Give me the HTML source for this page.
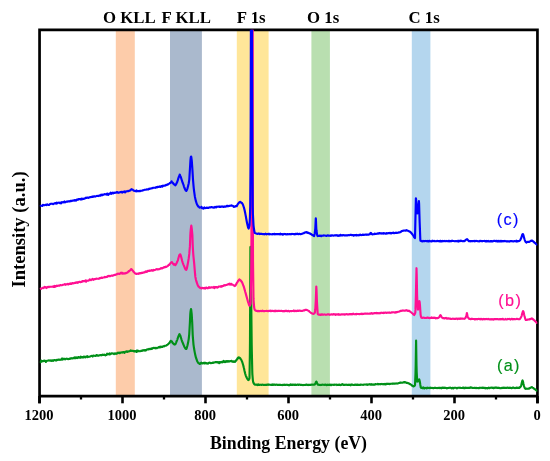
<!DOCTYPE html>
<html lang="en"><head><meta charset="utf-8"><title>XPS survey spectra</title>
<style>html,body{margin:0;padding:0;background:#fff;}svg{display:block;}</style></head>
<body>
<svg width="550" height="461" viewBox="0 0 550 461">
<rect width="550" height="461" fill="#fff"/>
<rect x="115.8" y="31" width="19.0" height="364" fill="#FDCCAA"/>
<rect x="170.0" y="31" width="31.9" height="364" fill="#AAB9CD"/>
<rect x="236.8" y="31" width="31.8" height="364" fill="#FFE699"/>
<rect x="311.4" y="31" width="18.5" height="364" fill="#B9DFB0"/>
<rect x="411.8" y="31" width="18.6" height="364" fill="#B4D6EE"/>
<g stroke="#000" fill="none">
<path d="M39.55,403.3 V29.85 H537.45 V403.3" stroke-width="2.7" stroke-linejoin="miter"/>
<path d="M39.55,396.15 H537.45" stroke-width="2.7"/>
<path d="M537.5,396 V403.3" stroke-width="2.6"/>
<path d="M496.0,396 V399.5" stroke-width="2.3"/>
<path d="M454.5,396 V403.3" stroke-width="2.6"/>
<path d="M413.0,396 V399.5" stroke-width="2.3"/>
<path d="M371.5,396 V403.3" stroke-width="2.6"/>
<path d="M330.0,396 V399.5" stroke-width="2.3"/>
<path d="M288.5,396 V403.3" stroke-width="2.6"/>
<path d="M247.0,396 V399.5" stroke-width="2.3"/>
<path d="M205.5,396 V403.3" stroke-width="2.6"/>
<path d="M164.0,396 V399.5" stroke-width="2.3"/>
<path d="M122.5,396 V403.3" stroke-width="2.6"/>
<path d="M81.0,396 V399.5" stroke-width="2.3"/>
<path d="M39.5,396 V403.3" stroke-width="2.6"/>
</g>
<clipPath id="cp"><rect x="39.55" y="29.85" width="497.9" height="366.3"/></clipPath>
<g clip-path="url(#cp)" fill="none" stroke-linejoin="round" stroke-linecap="round">
<path d="M40.5,362.2 L41.1,360.6 L41.7,361.5 L42.3,361.1 L42.9,361.1 L43.5,361.1 L44.1,360.5 L44.7,361.0 L45.3,360.8 L45.9,362.0 L46.5,361.0 L47.1,360.8 L47.7,360.7 L48.3,360.5 L48.9,360.4 L49.5,360.5 L50.1,360.7 L50.7,360.4 L51.3,360.8 L51.9,360.3 L52.5,360.3 L53.1,360.8 L53.7,360.4 L54.3,360.0 L54.9,360.0 L55.5,360.2 L56.1,360.6 L56.7,359.8 L57.3,359.8 L57.9,360.1 L58.5,359.5 L59.1,359.6 L59.7,359.9 L60.3,359.7 L60.9,359.5 L61.5,359.6 L62.1,358.5 L62.7,359.6 L63.3,358.9 L63.9,358.7 L64.5,359.2 L65.1,359.3 L65.7,358.9 L66.3,358.6 L66.9,358.9 L67.5,358.8 L68.1,359.2 L68.7,358.9 L69.3,358.7 L69.9,358.9 L70.5,358.4 L71.1,358.1 L71.7,358.5 L72.3,358.5 L72.9,358.2 L73.5,357.9 L74.1,358.2 L74.7,357.3 L75.3,358.2 L75.9,358.1 L76.0,357.4 L76.5,357.9 L77.1,357.5 L77.7,358.0 L78.3,357.0 L78.9,357.3 L79.5,357.7 L80.1,357.8 L80.7,356.7 L81.3,357.2 L81.9,357.4 L82.5,357.0 L83.1,357.6 L83.7,356.7 L84.3,357.1 L84.9,356.6 L85.5,357.3 L86.1,356.8 L86.7,356.6 L87.3,356.1 L87.9,357.1 L88.5,356.8 L89.1,356.7 L89.7,356.7 L90.3,356.4 L90.9,356.1 L91.5,355.9 L92.1,355.9 L92.7,356.5 L93.3,355.5 L93.9,355.7 L94.5,355.8 L95.1,355.9 L95.7,355.9 L96.3,355.3 L96.9,355.0 L97.5,355.5 L98.1,355.8 L98.7,355.6 L99.3,355.4 L99.9,355.1 L100.5,355.2 L101.1,355.0 L101.7,355.3 L102.3,354.7 L102.9,354.9 L103.5,354.8 L104.1,354.9 L104.7,354.7 L105.3,355.4 L105.9,355.0 L106.5,354.9 L107.1,353.7 L107.7,354.2 L108.3,354.0 L108.9,354.3 L109.5,353.4 L110.1,354.3 L110.7,354.2 L111.3,353.4 L111.9,353.5 L112.5,353.4 L113.1,353.6 L113.7,353.7 L114.0,354.1 L114.3,353.4 L114.9,353.6 L115.5,353.4 L116.1,353.8 L116.7,353.4 L117.3,353.5 L117.9,352.7 L118.5,352.9 L119.1,352.6 L119.7,353.2 L120.3,352.9 L120.9,352.5 L121.5,352.4 L122.1,352.6 L122.7,352.2 L123.3,352.0 L123.9,352.3 L124.5,352.8 L125.1,351.9 L125.7,351.8 L126.3,351.5 L126.9,351.3 L127.0,351.8 L127.5,351.8 L128.1,351.5 L128.7,351.4 L129.3,351.2 L129.9,351.0 L130.5,350.4 L131.0,350.7 L131.1,350.9 L131.7,350.7 L132.3,350.8 L132.9,350.8 L133.5,351.0 L134.1,351.4 L134.7,351.0 L135.0,351.1 L135.3,351.5 L135.9,351.4 L136.5,351.8 L137.1,350.4 L137.7,351.4 L138.3,350.9 L138.9,351.0 L139.5,351.2 L140.1,351.2 L140.7,351.0 L141.3,350.7 L141.9,351.0 L142.5,350.4 L143.1,350.3 L143.7,350.4 L144.3,350.0 L144.9,350.6 L145.5,350.1 L146.1,350.3 L146.7,349.6 L147.3,349.4 L147.9,349.4 L148.5,349.4 L149.1,348.9 L149.7,349.1 L150.3,348.8 L150.9,349.2 L151.5,348.4 L152.1,348.8 L152.7,348.2 L153.1,348.0 L153.3,348.1 L153.9,347.8 L154.5,348.1 L155.1,348.3 L155.7,347.9 L156.3,348.0 L156.9,348.2 L157.5,347.7 L158.1,347.6 L158.7,347.3 L159.3,346.8 L159.9,347.4 L160.5,346.6 L161.1,347.1 L161.7,346.8 L162.3,347.0 L162.9,346.6 L163.5,346.2 L164.1,346.3 L164.7,345.9 L165.3,345.8 L165.9,345.7 L166.1,345.6 L166.5,345.4 L167.1,344.9 L167.7,344.6 L168.3,343.8 L168.6,343.8 L168.9,343.3 L169.5,342.8 L170.1,341.9 L170.7,340.8 L171.1,341.0 L171.3,341.0 L171.9,341.6 L172.5,342.8 L173.0,343.3 L173.1,343.2 L173.7,344.0 L174.3,344.4 L174.8,344.6 L174.9,344.3 L175.5,344.0 L176.1,342.6 L176.7,341.0 L177.1,340.1 L177.3,339.6 L177.9,337.9 L178.5,336.2 L179.1,334.8 L179.5,334.1 L179.7,334.5 L180.3,335.6 L180.9,337.5 L181.5,339.5 L182.1,341.3 L182.3,341.8 L182.7,342.7 L183.3,344.3 L183.9,345.6 L184.5,347.0 L185.1,348.0 L185.7,348.8 L186.1,348.5 L186.3,349.0 L186.9,347.5 L187.5,345.3 L188.0,343.1 L188.1,342.6 L188.7,339.1 L189.2,334.6 L189.3,333.4 L189.9,322.6 L189.9,322.6 L190.3,314.1 L190.5,311.8 L190.8,309.9 L191.0,309.1 L191.1,309.3 L191.2,309.9 L191.7,314.1 L191.7,314.1 L192.2,322.6 L192.3,324.9 L192.7,334.6 L192.9,337.7 L193.5,344.6 L193.5,344.6 L194.1,348.8 L194.7,352.1 L194.8,352.6 L195.3,354.9 L195.9,357.4 L196.3,358.6 L196.5,359.2 L197.1,360.9 L197.7,362.0 L197.9,362.3 L198.3,363.0 L198.9,363.0 L199.5,363.9 L200.0,363.5 L200.1,363.9 L200.7,363.5 L201.3,362.7 L201.9,363.3 L202.5,363.5 L203.1,363.0 L203.7,362.9 L204.3,363.5 L204.9,363.1 L205.0,362.7 L205.5,363.0 L206.1,363.5 L206.7,363.0 L207.3,363.5 L207.9,363.6 L208.5,363.1 L209.1,362.7 L209.7,362.6 L210.3,363.0 L210.9,363.2 L211.5,363.0 L212.1,363.0 L212.7,362.6 L213.3,362.8 L213.9,362.5 L214.5,362.5 L215.1,362.2 L215.7,362.0 L216.3,362.3 L216.9,362.1 L217.5,362.1 L218.1,362.6 L218.7,362.2 L219.3,363.2 L219.7,362.5 L219.9,362.0 L220.5,362.4 L221.1,362.2 L221.7,361.8 L222.3,362.3 L222.9,361.6 L223.5,360.9 L224.1,362.0 L224.7,361.4 L225.3,362.0 L225.9,361.3 L226.5,361.1 L227.1,361.8 L227.7,361.0 L228.3,361.3 L228.9,361.7 L229.5,361.2 L230.1,361.1 L230.7,361.1 L231.3,361.4 L231.5,360.8 L231.9,361.3 L232.5,361.4 L233.1,361.9 L233.7,361.4 L234.3,361.3 L234.9,361.9 L235.0,361.5 L235.5,361.4 L236.1,360.5 L236.7,359.8 L236.9,359.3 L237.3,358.9 L237.9,357.9 L238.5,357.5 L238.8,358.1 L239.1,357.5 L239.7,357.9 L240.3,358.4 L240.5,358.9 L240.9,359.3 L241.5,360.3 L242.1,361.7 L242.1,361.7 L242.7,363.5 L243.3,365.5 L243.7,367.2 L243.9,367.9 L244.5,370.8 L245.1,373.3 L245.2,373.7 L245.7,375.3 L246.3,376.8 L246.9,378.1 L247.0,378.3 L247.5,379.1 L248.1,379.9 L248.6,380.1 L248.7,379.7 L249.3,378.9 L249.5,378.1 L249.9,352.4 L250.0,340.6 L250.2,290.6 L250.4,247.1 L250.5,246.9 L250.7,247.1 L251.1,290.6 L251.1,290.6 L251.7,344.5 L251.8,350.6 L252.3,372.5 L252.4,374.6 L252.9,380.5 L253.2,382.1 L253.5,382.9 L254.1,383.9 L254.7,384.5 L255.0,384.7 L255.3,384.6 L255.9,384.7 L256.5,384.5 L257.1,385.0 L257.5,384.7 L257.7,385.1 L258.3,384.3 L258.9,384.9 L259.5,384.9 L260.1,384.7 L260.7,384.8 L261.3,384.9 L261.9,384.9 L262.5,384.6 L263.1,384.7 L263.7,385.0 L264.3,385.0 L264.9,384.8 L265.5,384.8 L266.1,384.8 L266.7,385.0 L267.3,384.6 L267.9,384.5 L268.5,384.8 L269.1,384.6 L269.7,384.7 L270.3,384.8 L270.9,384.9 L271.5,384.6 L272.1,385.0 L272.7,384.4 L273.3,384.9 L273.9,384.5 L274.5,384.5 L275.1,384.9 L275.7,384.7 L276.3,384.6 L276.9,384.7 L277.5,384.9 L278.1,384.8 L278.7,384.8 L279.3,385.0 L279.9,384.7 L280.0,384.7 L280.5,384.7 L281.1,385.0 L281.7,385.0 L282.3,385.1 L282.9,384.8 L283.5,384.8 L284.1,385.0 L284.7,384.7 L285.3,385.0 L285.9,384.9 L286.5,384.7 L287.1,384.8 L287.7,384.8 L288.3,385.1 L288.9,385.3 L289.5,384.8 L290.1,384.8 L290.7,384.3 L291.3,384.8 L291.9,384.8 L292.5,384.6 L293.1,385.0 L293.7,384.5 L294.3,384.8 L294.9,384.8 L295.5,384.6 L296.1,385.0 L296.7,385.0 L297.3,384.5 L297.9,384.5 L298.5,384.9 L299.1,384.8 L299.7,384.6 L300.0,384.7 L300.3,384.8 L300.9,384.8 L301.5,385.0 L302.1,384.9 L302.7,385.1 L303.3,385.1 L303.9,384.9 L304.5,385.0 L305.1,385.0 L305.7,384.9 L306.3,384.5 L306.9,384.9 L307.5,384.8 L308.1,385.1 L308.7,384.8 L309.3,384.8 L309.9,384.8 L310.5,385.0 L311.1,384.7 L311.7,384.6 L312.3,384.7 L312.9,384.6 L313.5,384.7 L314.1,384.6 L314.2,384.6 L314.7,384.5 L315.3,383.7 L315.4,383.6 L315.9,382.2 L316.3,381.5 L316.5,381.6 L317.1,383.4 L317.2,383.6 L317.7,384.3 L318.3,384.8 L318.4,384.7 L318.9,384.6 L319.5,384.9 L320.1,385.1 L320.7,384.9 L321.3,384.8 L321.9,384.9 L322.5,384.6 L323.1,384.7 L323.7,384.7 L324.3,384.9 L324.9,384.8 L325.5,384.6 L326.1,385.0 L326.7,385.1 L327.3,384.7 L327.9,384.9 L328.5,384.9 L329.1,385.0 L329.7,384.5 L330.3,385.1 L330.9,384.7 L331.5,385.1 L332.1,384.8 L332.7,384.7 L333.3,384.8 L333.9,385.0 L334.5,384.6 L335.1,384.7 L335.7,384.7 L336.3,384.5 L336.9,385.1 L337.5,384.9 L338.1,384.8 L338.7,385.0 L339.3,384.6 L339.9,384.8 L340.5,385.1 L341.1,385.0 L341.7,384.4 L342.3,384.1 L342.9,384.6 L343.5,385.0 L344.1,384.7 L344.7,384.8 L345.3,384.9 L345.9,384.6 L346.5,384.8 L347.1,385.0 L347.7,384.9 L348.3,384.9 L348.9,384.7 L349.5,384.9 L350.0,384.7 L350.1,385.1 L350.7,385.3 L351.3,384.7 L351.9,384.4 L352.5,384.7 L353.1,384.9 L353.7,385.0 L354.3,385.0 L354.9,384.6 L355.5,384.6 L356.1,385.0 L356.7,384.5 L357.3,385.0 L357.9,384.7 L358.5,384.9 L359.1,384.9 L359.7,384.9 L360.3,384.9 L360.9,384.5 L361.5,384.7 L362.1,384.7 L362.7,384.7 L363.3,384.9 L363.9,384.6 L364.5,384.5 L365.1,384.5 L365.7,384.5 L366.3,384.7 L366.9,384.4 L367.5,384.8 L368.1,384.6 L368.7,384.5 L369.3,384.2 L369.9,384.5 L370.5,384.6 L371.1,384.1 L371.7,384.6 L372.3,384.7 L372.9,384.4 L373.5,384.5 L374.1,384.8 L374.7,384.6 L375.3,384.1 L375.9,384.3 L376.5,384.2 L377.1,384.2 L377.7,383.8 L378.3,384.4 L378.9,384.1 L379.5,384.2 L380.1,384.1 L380.7,384.3 L381.3,384.1 L381.9,383.9 L382.5,384.2 L383.1,384.3 L383.7,384.0 L384.3,384.3 L384.9,384.1 L385.0,383.9 L385.5,384.3 L386.1,383.8 L386.7,384.1 L387.3,383.8 L387.9,384.0 L388.5,383.7 L389.1,383.7 L389.7,384.1 L390.3,383.9 L390.9,383.8 L391.5,383.7 L392.1,383.8 L392.7,383.5 L393.3,383.5 L393.9,383.6 L394.5,383.5 L395.0,383.5 L395.1,383.6 L395.7,383.5 L396.3,383.4 L396.9,383.6 L397.5,383.5 L398.1,383.4 L398.7,383.1 L399.3,382.9 L399.9,382.7 L400.0,382.8 L400.5,382.5 L401.1,382.6 L401.7,382.7 L402.3,382.7 L402.9,382.5 L403.5,382.2 L404.1,382.3 L404.7,382.1 L404.9,382.4 L405.3,382.2 L405.9,382.4 L406.5,382.8 L407.1,382.8 L407.7,383.1 L408.3,383.1 L408.5,383.2 L408.9,383.5 L409.5,383.9 L410.1,384.1 L410.7,384.6 L411.3,384.8 L411.5,385.1 L411.9,385.5 L412.5,385.9 L413.1,386.2 L413.5,386.1 L413.7,386.4 L414.3,386.1 L414.9,385.3 L415.0,385.1 L415.5,373.5 L415.7,365.6 L416.1,340.6 L416.1,340.6 L416.5,365.6 L416.7,372.3 L417.2,381.6 L417.3,381.6 L417.9,381.4 L418.3,381.2 L418.5,380.8 L419.1,379.3 L419.2,379.3 L419.7,381.0 L420.0,382.6 L420.3,384.7 L420.8,387.5 L420.9,387.7 L421.5,387.9 L422.1,387.9 L422.7,387.7 L423.0,388.3 L423.3,387.4 L423.9,387.9 L424.5,388.4 L425.1,388.0 L425.7,388.0 L426.3,387.8 L426.9,388.3 L427.5,387.7 L428.1,388.0 L428.7,388.0 L429.3,387.8 L429.9,388.2 L430.5,387.7 L431.1,387.9 L431.7,388.0 L432.3,387.9 L432.9,388.1 L433.5,388.2 L434.1,387.9 L434.7,387.9 L435.3,387.9 L435.9,387.9 L436.5,388.1 L437.1,387.9 L437.7,388.1 L438.3,388.0 L438.9,387.8 L439.5,388.1 L440.1,387.8 L440.7,388.0 L441.3,388.3 L441.9,387.7 L442.5,388.0 L443.1,387.6 L443.7,387.9 L444.3,387.7 L444.9,387.9 L445.5,387.8 L446.1,388.0 L446.7,388.3 L447.3,388.0 L447.9,388.1 L448.5,387.9 L449.1,387.9 L449.7,387.8 L450.3,387.6 L450.9,387.9 L451.5,388.3 L452.1,388.0 L452.7,387.8 L453.3,388.3 L453.9,387.8 L454.5,387.8 L455.1,387.7 L455.7,387.7 L456.3,387.9 L456.9,388.3 L457.5,387.9 L458.1,387.7 L458.7,387.8 L459.3,387.9 L459.9,387.6 L460.5,387.9 L461.1,388.0 L461.7,388.0 L462.3,388.0 L462.9,387.6 L463.5,387.6 L464.1,388.2 L464.7,388.1 L465.3,387.6 L465.9,387.9 L466.5,387.9 L467.1,388.0 L467.7,387.9 L468.3,387.8 L468.9,387.9 L469.5,387.9 L470.0,387.9 L470.1,387.5 L470.7,387.3 L471.3,387.7 L471.9,387.6 L472.5,388.0 L473.1,388.0 L473.7,388.0 L474.3,387.8 L474.9,387.9 L475.5,388.1 L476.1,387.8 L476.7,388.1 L477.3,388.0 L477.9,388.0 L478.5,388.2 L479.1,387.8 L479.7,388.1 L480.3,387.7 L480.9,387.7 L481.5,387.7 L482.1,388.0 L482.7,387.7 L483.3,387.9 L483.9,387.7 L484.5,388.1 L485.1,388.3 L485.7,387.9 L486.3,388.2 L486.9,388.0 L487.5,388.3 L488.1,387.9 L488.7,387.6 L489.3,388.2 L489.9,387.9 L490.5,387.7 L491.1,387.8 L491.7,387.6 L492.3,387.9 L492.9,387.7 L493.5,388.2 L494.1,388.0 L494.7,387.6 L495.3,387.6 L495.9,387.8 L496.5,387.5 L497.1,387.9 L497.7,387.9 L498.3,387.7 L498.9,387.8 L499.5,388.0 L500.1,388.2 L500.7,388.2 L501.3,387.9 L501.9,388.1 L502.5,387.8 L503.1,388.0 L503.7,387.7 L504.3,388.0 L504.9,387.7 L505.5,387.7 L506.1,387.9 L506.7,388.0 L507.3,387.6 L507.9,387.8 L508.5,387.9 L509.1,387.9 L509.7,387.7 L510.3,387.9 L510.9,387.8 L511.5,388.2 L512.1,388.0 L512.7,387.6 L513.3,387.5 L513.9,387.9 L514.5,388.1 L515.1,387.9 L515.7,388.1 L516.3,387.8 L516.9,387.6 L517.5,388.0 L518.1,387.9 L518.7,388.0 L519.0,387.7 L519.3,387.9 L519.9,387.4 L520.5,386.8 L521.0,386.1 L521.1,385.9 L521.7,383.3 L522.3,380.8 L522.5,380.5 L522.9,381.3 L523.5,384.1 L524.0,386.1 L524.1,386.4 L524.7,387.9 L525.3,388.5 L525.3,388.8 L525.9,388.9 L526.5,388.6 L527.1,388.8 L527.7,388.7 L528.3,388.7 L528.9,388.4 L529.0,388.7 L529.5,388.3 L530.1,388.1 L530.7,387.5 L531.3,387.5 L531.8,387.1 L531.9,387.1 L532.5,387.6 L533.1,387.9 L533.7,388.4 L534.0,388.5 L534.3,388.9 L534.9,389.2 L535.5,389.6 L536.1,390.1 L536.7,390.7 L536.7,390.5" stroke="#009018" stroke-width="2.15"/>
<path d="M40.5,288.5 L41.1,288.8 L41.7,288.4 L42.3,288.1 L42.9,287.8 L43.5,288.1 L44.1,287.3 L44.7,286.8 L45.3,287.4 L45.9,287.2 L46.5,288.0 L47.1,287.4 L47.7,287.0 L48.3,286.8 L48.9,287.2 L49.5,286.7 L50.1,286.7 L50.7,286.8 L51.3,286.7 L51.9,286.7 L52.5,286.6 L53.1,286.8 L53.7,286.8 L54.3,285.8 L54.9,286.9 L55.5,286.1 L56.1,286.3 L56.7,285.7 L57.3,285.9 L57.9,285.7 L58.5,285.6 L59.1,285.7 L59.7,285.6 L60.3,285.0 L60.9,285.2 L61.5,285.3 L62.1,285.2 L62.7,284.8 L63.3,284.7 L63.9,284.7 L64.5,284.3 L65.1,284.1 L65.7,284.8 L66.3,284.2 L66.9,284.2 L67.5,283.9 L68.1,284.4 L68.7,284.4 L69.3,283.7 L69.9,283.8 L70.5,283.4 L71.1,284.0 L71.7,283.6 L72.3,283.0 L72.9,283.5 L73.5,283.2 L74.1,283.1 L74.7,283.0 L75.3,282.6 L75.9,282.5 L76.0,282.8 L76.5,282.5 L77.1,282.2 L77.7,282.9 L78.3,282.2 L78.9,282.0 L79.5,281.8 L80.1,282.1 L80.7,282.1 L81.3,281.8 L81.9,281.8 L82.5,281.0 L83.1,281.3 L83.7,281.1 L84.3,281.1 L84.9,281.2 L85.5,280.4 L86.1,281.7 L86.7,280.5 L87.3,280.7 L87.9,280.7 L88.5,280.6 L89.1,280.3 L89.7,279.4 L90.3,279.8 L90.9,280.2 L91.5,279.6 L92.1,279.4 L92.7,279.0 L93.3,279.8 L93.9,279.5 L94.5,279.0 L95.1,279.1 L95.7,279.0 L96.3,278.6 L96.9,278.7 L97.5,278.7 L98.1,278.7 L98.7,278.8 L99.3,278.3 L99.9,278.1 L100.5,278.2 L101.1,277.8 L101.7,277.5 L102.3,278.0 L102.9,277.5 L103.5,277.5 L104.1,277.5 L104.7,276.9 L105.3,277.2 L105.9,277.1 L106.5,276.8 L107.1,276.8 L107.7,276.4 L108.3,275.8 L108.9,276.2 L109.5,275.9 L110.1,276.2 L110.7,275.9 L111.3,275.6 L111.9,275.6 L112.5,275.8 L113.1,275.6 L113.7,275.3 L114.0,275.2 L114.3,275.0 L114.9,274.8 L115.5,274.8 L116.1,274.5 L116.7,274.4 L117.3,273.9 L117.9,273.6 L118.0,273.6 L118.5,273.8 L119.1,274.0 L119.7,273.9 L120.3,273.1 L120.9,272.8 L121.5,273.5 L121.9,273.4 L122.1,272.7 L122.7,273.6 L123.3,273.3 L123.9,273.7 L124.5,273.3 L125.1,273.5 L125.7,273.3 L126.0,272.9 L126.3,273.1 L126.9,272.8 L127.5,272.6 L128.1,271.8 L128.7,271.2 L129.0,271.3 L129.3,271.1 L129.9,270.5 L130.5,269.9 L131.1,269.0 L131.3,269.1 L131.7,269.4 L132.3,270.1 L132.9,270.8 L133.5,271.8 L133.6,271.9 L134.1,272.2 L134.7,272.9 L135.3,273.5 L135.9,273.6 L136.2,274.0 L136.5,274.0 L137.1,273.7 L137.7,273.7 L138.3,273.4 L138.9,273.8 L139.5,273.2 L140.1,273.0 L140.7,273.3 L141.3,272.8 L141.9,272.9 L142.5,273.0 L143.1,272.6 L143.7,272.4 L144.3,272.4 L144.9,272.2 L145.5,271.5 L146.1,271.4 L146.7,271.9 L147.3,271.5 L147.9,270.7 L148.5,270.7 L149.1,270.9 L149.7,270.5 L150.0,270.8 L150.3,270.7 L150.9,270.6 L151.5,270.1 L152.1,270.4 L152.7,270.7 L153.3,269.8 L153.9,270.3 L154.5,270.1 L155.1,269.9 L155.7,269.6 L156.3,269.2 L156.9,269.1 L157.5,269.5 L158.1,269.4 L158.7,269.3 L159.3,269.1 L159.9,269.0 L160.5,268.5 L161.1,268.1 L161.7,268.3 L162.3,268.3 L162.9,268.0 L163.5,267.4 L164.1,267.5 L164.7,267.1 L165.3,267.2 L165.9,266.7 L166.0,266.9 L166.5,266.7 L167.1,266.4 L167.7,266.1 L168.3,265.3 L168.9,264.7 L169.0,265.0 L169.5,264.5 L170.1,263.7 L170.7,262.8 L171.3,262.4 L171.6,262.3 L171.9,262.1 L172.5,263.0 L173.1,263.9 L173.5,264.1 L173.7,264.7 L174.3,264.2 L174.9,264.6 L175.4,265.2 L175.5,264.6 L176.1,264.1 L176.7,262.9 L177.3,261.5 L177.5,261.2 L177.9,260.1 L178.5,258.0 L179.1,255.8 L179.7,254.6 L180.0,254.4 L180.3,254.4 L180.9,255.9 L181.5,258.2 L182.1,260.7 L182.7,262.6 L182.7,262.6 L183.3,264.3 L183.9,265.7 L184.5,267.2 L185.1,268.7 L185.7,269.5 L186.3,269.8 L186.3,269.9 L186.9,268.4 L187.5,265.3 L187.9,263.1 L188.1,262.1 L188.7,258.4 L189.2,254.6 L189.3,253.7 L189.9,246.4 L190.0,244.6 L190.3,235.6 L190.5,232.4 L190.7,230.1 L191.1,226.8 L191.1,226.7 L191.3,225.6 L191.5,226.8 L191.7,228.2 L191.9,230.1 L192.3,234.1 L192.4,235.6 L192.7,244.6 L192.9,248.6 L193.3,254.6 L193.5,256.9 L194.1,262.6 L194.2,263.6 L194.7,269.7 L195.3,276.4 L195.4,277.0 L195.9,279.5 L196.5,281.7 L197.0,283.1 L197.1,283.4 L197.7,285.0 L198.3,286.2 L198.6,286.7 L198.9,286.6 L199.5,287.4 L200.1,287.9 L200.7,288.1 L201.3,288.2 L201.8,288.4 L201.9,287.9 L202.5,287.9 L203.1,288.1 L203.7,288.1 L204.3,288.5 L204.9,287.8 L205.5,288.5 L206.1,287.5 L206.7,287.8 L207.3,288.0 L207.9,288.3 L208.5,287.7 L209.1,287.2 L209.7,287.9 L210.3,287.7 L210.9,287.3 L211.5,287.3 L212.1,287.3 L212.7,287.5 L213.3,287.6 L213.9,286.9 L214.5,288.0 L215.1,287.2 L215.7,287.0 L216.3,287.3 L216.9,287.0 L217.5,287.6 L218.1,287.2 L218.7,286.6 L219.3,286.5 L219.7,286.5 L219.9,286.5 L220.5,286.7 L221.1,286.2 L221.7,286.7 L222.3,286.1 L222.9,285.9 L223.5,286.0 L224.1,285.1 L224.7,285.2 L225.3,285.4 L225.9,285.1 L226.5,284.9 L227.1,284.8 L227.7,284.4 L228.3,284.4 L228.9,284.0 L229.5,283.7 L230.1,284.6 L230.7,283.8 L231.3,283.8 L231.3,284.6 L231.9,284.5 L232.5,284.5 L233.1,285.0 L233.7,285.5 L234.3,285.6 L234.8,286.1 L234.9,285.9 L235.5,285.4 L236.1,284.4 L236.7,283.2 L237.3,282.3 L237.5,282.0 L237.9,281.1 L238.5,280.6 L239.1,279.7 L239.4,279.3 L239.7,280.0 L240.3,280.1 L240.9,280.7 L241.3,281.3 L241.5,281.4 L242.1,282.4 L242.7,283.9 L243.2,285.2 L243.3,285.4 L243.9,287.0 L244.5,289.1 L245.1,291.2 L245.2,291.7 L245.7,293.4 L246.3,295.6 L246.9,297.8 L247.1,298.5 L247.5,300.0 L248.1,302.1 L248.6,303.5 L248.7,303.9 L249.3,305.5 L249.6,305.5 L249.9,305.7 L250.5,304.0 L250.6,303.6 L251.1,280.0 L251.4,250.6 L251.7,179.0 L251.9,120.6 L252.3,24.8 L252.3,25.1 L252.7,25.0 L252.8,120.6 L252.9,207.6 L253.0,260.6 L253.5,298.4 L253.6,300.6 L254.1,307.0 L254.5,309.1 L254.7,309.6 L255.3,310.4 L255.9,310.6 L256.0,310.7 L256.5,310.9 L257.1,311.1 L257.7,310.9 L258.0,311.1 L258.3,310.9 L258.9,311.1 L259.5,311.1 L260.1,311.1 L260.7,310.9 L261.3,311.0 L261.9,311.1 L262.5,310.7 L263.1,311.0 L263.7,311.1 L264.3,311.2 L264.9,311.0 L265.5,311.0 L266.1,311.0 L266.7,310.9 L267.3,311.0 L267.9,311.1 L268.5,311.1 L269.1,310.8 L269.7,310.9 L270.3,310.6 L270.9,311.2 L271.5,310.9 L272.1,311.0 L272.7,310.8 L273.3,311.0 L273.9,311.1 L274.5,311.2 L275.1,310.7 L275.7,311.2 L276.3,311.0 L276.9,310.8 L277.5,311.1 L278.1,310.9 L278.7,310.9 L279.3,310.9 L279.9,311.0 L280.0,311.0 L280.5,311.0 L281.1,310.8 L281.7,310.9 L282.3,311.1 L282.9,311.3 L283.5,311.0 L284.1,311.3 L284.7,311.0 L285.3,310.8 L285.9,311.1 L286.5,310.8 L287.1,311.1 L287.7,311.2 L288.3,310.9 L288.9,311.0 L289.5,311.5 L290.1,311.0 L290.7,311.0 L291.3,311.1 L291.9,311.0 L292.5,311.0 L293.1,311.0 L293.7,310.5 L294.3,311.2 L294.9,310.7 L295.5,310.7 L296.1,311.1 L296.7,311.0 L297.3,310.7 L297.9,311.0 L298.5,310.7 L299.1,310.8 L299.7,310.6 L300.3,310.8 L300.9,311.0 L301.5,310.9 L301.8,311.0 L302.1,311.0 L302.7,310.8 L303.3,310.5 L303.9,310.3 L304.5,310.3 L305.1,309.9 L305.7,309.9 L306.0,309.8 L306.3,309.9 L306.9,310.0 L307.5,310.2 L308.1,310.6 L308.7,310.9 L309.3,311.4 L309.9,312.0 L310.5,312.5 L311.1,313.0 L311.7,313.3 L312.3,313.5 L312.9,313.8 L313.4,313.9 L313.5,313.5 L314.1,313.6 L314.7,312.9 L314.9,312.6 L315.3,309.2 L315.8,300.6 L315.9,298.0 L316.3,286.6 L316.5,289.6 L316.9,300.6 L317.1,304.5 L317.7,313.7 L317.8,314.1 L318.3,314.5 L318.9,314.7 L319.0,314.7 L319.5,314.5 L320.1,314.9 L320.7,314.7 L321.0,314.8 L321.3,314.3 L321.9,314.7 L322.5,314.4 L323.1,314.7 L323.7,314.6 L324.3,314.4 L324.9,314.6 L325.5,314.8 L326.1,314.7 L326.7,314.7 L327.3,314.4 L327.9,314.4 L328.5,314.3 L329.1,314.6 L329.7,314.8 L330.3,314.6 L330.9,314.5 L331.5,314.3 L332.1,314.6 L332.7,314.5 L333.3,314.1 L333.9,314.2 L334.5,314.4 L335.1,314.3 L335.7,314.8 L336.3,314.5 L336.9,314.3 L337.5,314.3 L338.1,314.7 L338.7,314.2 L339.3,314.6 L339.9,314.5 L340.5,314.7 L341.1,314.5 L341.7,314.3 L342.3,314.5 L342.9,314.4 L343.5,314.5 L344.1,314.3 L344.7,314.7 L345.3,314.3 L345.9,314.4 L346.5,314.1 L347.1,314.3 L347.7,314.3 L348.3,314.3 L348.9,314.4 L349.5,314.1 L350.0,314.0 L350.1,314.4 L350.7,314.1 L351.3,314.0 L351.9,314.4 L352.5,314.3 L353.1,313.6 L353.7,314.0 L354.3,314.2 L354.9,314.2 L355.5,314.0 L356.1,314.3 L356.7,313.9 L357.3,314.0 L357.9,314.0 L358.5,314.0 L359.1,314.1 L359.7,314.1 L360.3,313.9 L360.9,314.1 L361.5,313.7 L362.1,313.8 L362.7,314.1 L363.3,313.8 L363.9,313.9 L364.5,313.6 L365.1,313.6 L365.7,313.6 L366.3,313.7 L366.9,313.6 L367.5,313.6 L368.1,313.7 L368.7,313.7 L369.3,313.5 L369.9,313.6 L370.5,313.6 L371.1,313.2 L371.7,313.1 L372.3,313.6 L372.9,313.6 L373.5,313.3 L374.1,313.3 L374.7,313.1 L375.3,313.0 L375.9,313.2 L376.5,312.9 L377.1,313.3 L377.7,313.0 L378.3,313.1 L378.9,313.4 L379.5,313.3 L380.1,312.9 L380.7,313.1 L381.3,312.7 L381.9,312.8 L382.5,312.9 L383.1,313.1 L383.7,312.7 L384.3,312.9 L384.9,312.8 L385.5,312.5 L386.1,312.7 L386.7,312.9 L387.3,312.6 L387.9,312.7 L388.5,312.7 L389.1,312.4 L389.7,312.7 L390.0,312.8 L390.3,312.8 L390.9,312.7 L391.5,312.4 L392.1,312.3 L392.7,312.3 L393.3,312.2 L393.9,312.2 L394.5,312.5 L395.1,312.6 L395.7,312.2 L396.3,312.4 L396.9,312.0 L397.0,312.1 L397.5,312.0 L398.1,311.8 L398.7,311.7 L399.3,311.5 L399.9,311.2 L400.5,310.9 L401.0,310.8 L401.1,310.9 L401.7,310.7 L402.3,310.7 L402.9,310.4 L403.5,310.6 L404.1,310.6 L404.7,310.7 L405.3,310.6 L405.6,310.4 L405.9,310.3 L406.5,310.2 L407.1,310.5 L407.7,310.9 L408.3,311.0 L408.9,310.7 L409.5,311.1 L409.5,311.2 L410.1,311.4 L410.7,312.0 L411.3,312.5 L411.9,313.0 L412.0,313.1 L412.5,313.4 L413.1,314.1 L413.7,314.6 L414.2,315.0 L414.3,314.6 L414.9,313.9 L415.3,312.6 L415.5,309.4 L415.9,295.6 L416.1,285.4 L416.5,268.2 L416.7,274.2 L417.1,295.6 L417.3,300.3 L417.9,309.4 L418.0,309.6 L418.5,305.3 L418.7,303.6 L419.1,301.7 L419.4,301.1 L419.7,302.5 L420.0,305.6 L420.3,310.4 L420.6,314.6 L420.9,316.4 L421.4,317.7 L421.5,317.8 L422.1,317.7 L422.7,317.9 L423.3,317.6 L423.9,317.7 L424.0,317.7 L424.5,317.9 L425.1,318.0 L425.7,318.0 L426.3,317.9 L426.9,317.7 L427.5,317.5 L428.1,317.9 L428.7,317.9 L429.3,317.9 L429.9,318.2 L430.5,317.8 L431.1,317.8 L431.7,317.4 L432.3,318.0 L432.9,317.9 L433.5,317.7 L434.1,318.0 L434.7,317.7 L435.3,317.8 L435.9,318.3 L436.5,318.1 L437.1,318.1 L437.7,318.1 L438.0,318.0 L438.3,317.8 L438.9,317.5 L439.4,316.8 L439.5,316.7 L440.1,315.5 L440.4,315.1 L440.7,315.3 L441.3,316.5 L441.6,317.1 L441.9,317.4 L442.5,317.8 L443.0,318.1 L443.1,318.2 L443.7,318.0 L444.3,318.5 L444.9,318.1 L445.5,318.2 L446.1,317.8 L446.7,318.6 L447.3,318.4 L447.9,318.7 L448.5,318.3 L449.1,318.6 L449.7,318.5 L450.3,318.6 L450.9,319.0 L451.5,319.0 L452.1,318.9 L452.7,318.6 L453.3,318.8 L453.9,318.9 L454.5,318.8 L455.1,318.8 L455.7,318.8 L456.3,318.6 L456.9,318.8 L457.5,319.1 L458.1,318.6 L458.7,318.8 L459.3,318.9 L459.9,318.5 L460.5,318.8 L461.1,318.5 L461.7,318.7 L462.3,318.5 L462.9,318.6 L463.5,318.7 L464.1,318.7 L464.5,318.8 L464.7,318.5 L465.3,318.3 L465.9,317.1 L466.3,316.1 L466.5,315.1 L466.9,313.0 L467.1,313.7 L467.5,316.1 L467.7,316.6 L468.3,317.9 L468.9,318.7 L469.3,319.0 L469.5,319.0 L470.1,318.9 L470.7,319.2 L471.3,319.0 L471.9,318.7 L472.5,319.0 L473.1,319.0 L473.7,319.0 L474.3,319.1 L474.9,319.5 L475.5,319.1 L476.1,319.1 L476.7,319.0 L477.3,319.3 L477.9,319.1 L478.5,318.9 L479.1,318.9 L479.7,319.2 L480.3,319.3 L480.9,318.8 L481.5,319.0 L482.1,319.3 L482.7,319.3 L483.3,318.9 L483.9,319.1 L484.5,319.3 L485.1,319.1 L485.7,319.1 L486.3,319.1 L486.9,318.9 L487.5,319.2 L488.1,319.2 L488.7,318.9 L489.3,319.2 L489.9,319.4 L490.5,319.2 L491.1,319.4 L491.7,319.1 L492.3,319.5 L492.9,319.0 L493.5,319.6 L494.1,319.1 L494.7,319.1 L495.3,319.0 L495.9,319.1 L496.5,319.1 L497.1,319.1 L497.7,319.1 L498.3,319.3 L498.9,319.4 L499.5,319.1 L500.0,319.4 L500.1,319.0 L500.7,319.0 L501.3,319.0 L501.9,319.3 L502.5,318.9 L503.1,318.9 L503.7,319.5 L504.3,319.5 L504.9,319.5 L505.5,318.9 L506.1,319.2 L506.7,319.4 L507.3,319.2 L507.9,318.9 L508.5,319.1 L509.1,318.9 L509.7,319.0 L510.3,319.6 L510.9,319.3 L511.5,318.9 L512.1,318.9 L512.7,319.3 L513.3,319.1 L513.9,319.3 L514.5,319.1 L515.1,319.2 L515.7,319.2 L516.3,319.0 L516.9,318.8 L517.5,319.0 L518.1,319.1 L518.7,319.2 L519.3,319.2 L519.5,319.2 L519.9,319.0 L520.5,318.1 L521.1,317.0 L521.5,316.2 L521.7,315.6 L522.3,313.2 L522.9,311.3 L523.1,311.2 L523.5,311.8 L524.1,314.5 L524.5,316.1 L524.7,316.8 L525.3,319.0 L525.8,320.0 L525.9,319.6 L526.5,319.8 L527.1,319.8 L527.7,319.6 L528.3,319.5 L528.9,319.5 L529.0,319.3 L529.5,319.5 L530.1,319.1 L530.7,319.0 L531.3,318.6 L531.8,318.3 L531.9,318.4 L532.5,318.8 L533.1,319.3 L533.7,319.8 L534.0,320.1 L534.3,320.3 L534.9,320.9 L535.5,321.5 L536.1,322.1 L536.7,322.9 L536.7,322.7" stroke="#FF0F92" stroke-width="2.15"/>
<path d="M40.5,205.7 L41.1,205.7 L41.7,205.7 L42.3,205.9 L42.9,204.9 L43.5,205.0 L44.1,205.2 L44.7,205.1 L45.3,204.9 L45.9,204.7 L46.5,205.1 L47.1,204.4 L47.7,204.5 L48.3,205.0 L48.9,205.0 L49.5,204.6 L50.1,204.0 L50.7,203.9 L51.3,203.8 L51.9,203.7 L52.5,203.8 L53.1,204.2 L53.7,203.8 L54.3,203.4 L54.9,203.3 L55.5,203.1 L56.1,203.7 L56.7,202.7 L57.3,203.3 L57.9,202.7 L58.5,202.7 L59.1,202.5 L59.7,203.1 L60.3,202.7 L60.9,203.4 L61.5,202.2 L62.1,202.1 L62.7,202.5 L63.3,202.4 L63.9,202.0 L64.5,201.4 L65.1,202.3 L65.7,202.0 L66.3,201.8 L66.9,201.5 L67.5,201.7 L68.1,201.3 L68.7,201.3 L69.3,201.2 L69.9,201.5 L70.5,200.9 L71.1,200.8 L71.7,201.1 L72.3,200.8 L72.9,200.6 L73.5,200.4 L74.1,200.7 L74.7,200.1 L75.3,200.3 L75.9,200.7 L76.0,200.2 L76.5,199.8 L77.1,199.6 L77.7,199.8 L78.3,199.3 L78.9,199.1 L79.5,199.2 L80.1,199.0 L80.7,199.5 L81.3,198.7 L81.9,199.4 L82.5,198.7 L83.1,198.8 L83.7,198.8 L84.3,198.6 L84.9,198.6 L85.5,198.0 L86.1,197.6 L86.7,198.0 L87.3,197.5 L87.9,197.6 L88.5,197.9 L89.1,197.5 L89.7,197.3 L90.3,197.0 L90.9,197.1 L91.5,197.0 L92.1,196.5 L92.7,196.9 L93.3,196.4 L93.9,196.6 L94.5,196.3 L95.1,196.6 L95.7,196.4 L96.3,196.1 L96.9,195.9 L97.5,195.9 L98.1,196.1 L98.7,195.9 L99.3,195.5 L99.9,195.4 L100.5,195.7 L101.1,194.7 L101.7,195.1 L102.3,194.6 L102.9,195.1 L103.5,194.5 L104.1,194.5 L104.7,194.1 L105.3,194.3 L105.9,194.4 L106.5,194.6 L107.1,193.6 L107.7,193.8 L108.3,194.9 L108.9,194.0 L109.5,193.6 L110.1,193.6 L110.7,192.6 L111.3,193.8 L111.9,193.3 L112.5,192.7 L113.1,193.4 L113.7,192.8 L114.0,192.6 L114.3,193.0 L114.9,192.9 L115.5,192.6 L116.1,192.6 L116.7,192.1 L117.3,192.1 L117.9,192.7 L118.5,192.8 L119.1,192.5 L119.7,192.4 L120.3,192.1 L120.9,192.1 L121.5,191.8 L122.1,192.6 L122.7,191.8 L123.3,192.1 L123.9,191.9 L124.5,191.4 L125.1,192.3 L125.7,191.5 L126.3,191.3 L126.9,191.4 L127.5,191.1 L128.0,191.2 L128.1,190.9 L128.7,191.1 L129.3,190.8 L129.9,190.3 L130.5,190.4 L130.5,190.2 L131.1,189.5 L131.7,189.2 L131.8,189.3 L132.3,189.6 L132.9,189.8 L133.5,190.6 L133.5,190.4 L134.1,190.8 L134.7,190.9 L135.3,191.1 L135.9,191.4 L136.0,190.8 L136.5,190.4 L137.1,191.2 L137.7,191.0 L138.3,191.1 L138.9,191.2 L139.5,190.9 L140.1,191.2 L140.7,190.7 L141.3,190.7 L141.9,190.8 L142.5,190.6 L143.1,190.2 L143.7,190.2 L144.3,189.8 L144.9,189.7 L145.5,189.7 L146.1,189.7 L146.7,189.3 L147.3,189.4 L147.9,189.5 L148.5,189.4 L149.1,188.7 L149.7,188.8 L150.3,188.6 L150.9,188.5 L151.5,188.4 L152.1,188.1 L152.7,188.1 L153.0,187.9 L153.3,187.7 L153.9,187.7 L154.5,187.7 L155.1,187.8 L155.7,187.4 L156.3,187.4 L156.9,187.5 L157.5,186.8 L158.1,186.8 L158.7,187.0 L159.3,186.7 L159.9,186.3 L160.5,186.8 L161.1,186.4 L161.7,186.0 L162.3,186.7 L162.9,185.7 L163.5,185.9 L164.1,185.6 L164.7,185.6 L165.3,185.6 L165.9,185.0 L166.0,185.2 L166.5,185.0 L167.1,184.6 L167.7,184.7 L168.3,184.2 L168.9,183.8 L169.0,183.7 L169.5,183.4 L170.1,183.0 L170.7,182.4 L171.3,182.5 L171.6,181.3 L171.9,181.8 L172.5,182.7 L173.1,183.2 L173.5,183.8 L173.7,183.9 L174.3,184.5 L174.9,184.9 L175.4,185.3 L175.5,185.1 L176.1,184.3 L176.7,183.0 L177.3,181.7 L177.3,181.6 L177.9,179.9 L178.5,177.8 L179.1,176.1 L179.7,175.6 L179.7,174.5 L180.3,176.0 L180.9,177.3 L181.5,179.3 L182.1,181.2 L182.6,182.6 L182.7,182.8 L183.3,184.3 L183.9,186.3 L184.5,188.0 L185.1,189.3 L185.7,190.6 L186.3,190.9 L186.3,191.0 L186.9,190.0 L187.5,188.3 L188.1,186.0 L188.2,185.6 L188.7,183.5 L189.3,179.6 L189.3,179.6 L189.9,169.6 L189.9,169.6 L190.4,161.1 L190.5,159.9 L190.8,157.2 L191.1,156.5 L191.1,156.7 L191.3,157.2 L191.7,160.1 L191.8,161.1 L192.3,168.0 L192.4,169.6 L192.9,178.1 L193.0,179.6 L193.5,185.7 L193.8,188.6 L194.1,191.2 L194.7,195.4 L194.9,196.7 L195.3,198.6 L195.9,201.2 L196.5,203.0 L196.5,203.2 L197.1,204.6 L197.7,205.7 L198.3,206.5 L198.5,206.6 L198.9,206.8 L199.5,207.6 L200.1,207.6 L200.7,207.4 L201.3,207.6 L201.5,206.9 L201.9,208.1 L202.5,208.1 L203.1,208.5 L203.7,208.6 L204.3,207.5 L204.9,207.9 L205.5,208.1 L206.1,208.0 L206.7,207.5 L207.3,207.9 L207.9,207.8 L208.5,208.0 L209.1,207.5 L209.7,207.4 L210.3,207.3 L210.9,207.3 L211.5,207.1 L212.1,207.2 L212.7,207.5 L213.3,207.4 L213.9,207.7 L214.0,207.6 L214.5,207.4 L215.1,206.8 L215.7,207.3 L216.3,207.5 L216.9,206.6 L217.5,206.7 L218.1,206.7 L218.7,206.6 L219.3,206.8 L219.9,206.6 L220.5,207.0 L221.1,206.4 L221.7,206.7 L222.3,206.6 L222.9,206.4 L223.5,207.0 L224.1,206.6 L224.7,206.7 L225.0,206.4 L225.3,206.7 L225.9,206.6 L226.5,206.3 L227.1,205.7 L227.7,206.3 L228.3,206.2 L228.9,205.9 L229.5,205.9 L230.1,205.8 L230.7,205.7 L231.3,205.3 L231.6,205.6 L231.9,205.7 L232.5,205.7 L233.1,205.9 L233.7,206.8 L234.3,206.8 L234.9,206.7 L235.0,206.6 L235.5,206.1 L236.1,206.2 L236.5,206.2 L236.7,206.2 L237.3,205.0 L237.9,203.9 L238.5,203.3 L238.5,203.2 L239.1,202.5 L239.7,202.2 L240.0,201.9 L240.3,201.9 L240.9,202.3 L241.5,202.8 L241.8,202.8 L242.1,203.4 L242.7,204.2 L243.3,205.7 L243.8,207.3 L243.9,207.4 L244.5,209.8 L245.1,212.6 L245.5,214.6 L245.7,215.6 L246.3,219.0 L246.9,222.2 L247.0,222.7 L247.5,225.0 L248.1,227.6 L248.6,228.3 L248.7,228.6 L249.3,226.3 L249.5,225.1 L249.9,218.1 L250.2,206.6 L250.5,166.4 L250.7,120.6 L250.9,25.0 L251.1,24.9 L251.7,25.0 L252.0,25.0 L252.2,120.6 L252.3,146.2 L252.7,206.6 L252.9,213.8 L253.5,225.1 L253.6,226.1 L254.1,230.1 L254.7,232.8 L254.8,232.8 L255.3,233.1 L255.9,233.4 L256.5,233.6 L257.0,233.5 L257.1,233.8 L257.7,233.8 L258.3,233.7 L258.9,233.4 L259.5,234.1 L260.1,233.8 L260.7,234.0 L261.3,233.8 L261.9,233.9 L262.5,234.1 L263.1,234.0 L263.7,234.2 L264.3,234.0 L264.9,234.4 L265.5,233.7 L266.1,233.9 L266.7,234.3 L267.3,234.0 L267.9,234.0 L268.5,233.8 L269.1,234.3 L269.7,233.8 L270.3,234.2 L270.9,234.2 L271.5,234.3 L272.1,234.4 L272.7,234.0 L273.3,234.0 L273.9,234.1 L274.5,233.8 L275.1,234.3 L275.7,234.1 L276.3,234.2 L276.9,234.0 L277.5,234.2 L278.1,234.1 L278.7,234.2 L279.3,234.0 L279.9,234.4 L280.0,234.1 L280.5,233.7 L281.1,234.3 L281.7,234.1 L282.3,234.0 L282.9,234.7 L283.5,234.2 L284.1,233.9 L284.7,234.1 L285.3,234.3 L285.9,234.1 L286.5,234.4 L287.1,234.4 L287.7,234.0 L288.3,234.2 L288.9,234.3 L289.5,234.1 L290.1,234.1 L290.7,234.3 L291.3,234.2 L291.9,233.9 L292.5,234.0 L293.1,234.0 L293.7,234.1 L294.3,234.0 L294.9,234.4 L295.5,233.9 L296.1,233.9 L296.7,234.1 L297.3,233.6 L297.9,233.9 L298.5,234.2 L299.1,233.8 L299.7,233.9 L300.3,234.2 L300.9,234.1 L301.0,234.0 L301.5,234.0 L302.1,233.7 L302.7,233.5 L303.3,233.2 L303.9,233.2 L304.5,232.7 L305.1,232.4 L305.7,232.3 L305.9,232.3 L306.3,232.1 L306.9,232.3 L307.5,232.8 L308.1,232.6 L308.7,232.9 L309.0,233.2 L309.3,233.4 L309.9,233.4 L310.5,233.9 L311.1,234.1 L311.7,234.6 L312.0,234.6 L312.3,234.8 L312.9,235.3 L313.5,235.7 L314.1,235.6 L314.1,236.2 L314.7,233.7 L315.3,228.6 L315.3,228.6 L315.8,218.4 L315.9,219.3 L316.3,228.6 L316.5,230.5 L317.1,234.8 L317.6,236.1 L317.7,236.0 L318.3,235.8 L318.9,235.9 L319.5,235.9 L320.0,235.4 L320.1,236.0 L320.7,236.0 L321.3,236.2 L321.9,235.6 L322.5,235.7 L323.1,235.7 L323.7,235.4 L324.3,235.5 L324.9,235.5 L325.5,235.7 L326.1,235.7 L326.7,235.9 L327.3,235.5 L327.9,235.3 L328.5,235.7 L329.1,235.6 L329.7,235.7 L330.3,235.8 L330.9,235.4 L331.5,235.7 L332.1,235.3 L332.7,235.5 L333.3,235.6 L333.9,235.5 L334.5,235.5 L335.1,235.2 L335.7,235.4 L336.3,235.5 L336.9,235.2 L337.5,235.3 L338.1,235.9 L338.7,235.5 L339.3,235.3 L339.9,235.2 L340.0,235.7 L340.5,234.8 L341.1,235.3 L341.7,235.5 L342.3,235.2 L342.9,235.4 L343.5,235.1 L344.1,235.3 L344.7,235.3 L345.3,235.3 L345.9,235.3 L346.5,235.3 L347.1,235.5 L347.7,235.2 L348.3,235.1 L348.9,235.2 L349.5,235.2 L350.1,234.9 L350.7,234.8 L351.3,234.9 L351.9,235.2 L352.5,235.0 L353.1,235.1 L353.7,235.7 L354.3,235.3 L354.9,235.1 L355.5,235.0 L356.1,235.4 L356.7,234.9 L357.3,235.3 L357.9,235.2 L358.5,235.3 L359.1,234.9 L359.7,235.2 L360.3,234.6 L360.9,234.9 L361.5,235.1 L362.1,235.0 L362.7,234.5 L363.3,234.9 L363.9,234.9 L364.5,234.7 L365.1,234.6 L365.7,234.6 L366.3,234.5 L366.9,234.8 L367.5,234.6 L368.1,234.7 L368.7,234.6 L369.3,234.2 L369.5,234.4 L369.9,234.2 L370.5,233.0 L370.8,232.9 L371.1,233.0 L371.7,233.9 L372.0,234.2 L372.3,234.3 L372.9,234.3 L373.5,234.2 L374.1,234.2 L374.7,233.7 L375.3,234.0 L375.9,233.9 L376.5,233.7 L377.1,233.7 L377.7,233.4 L378.3,233.7 L378.9,233.3 L379.5,233.1 L380.0,233.4 L380.1,233.3 L380.7,233.3 L381.3,233.6 L381.9,233.3 L382.5,233.3 L383.1,233.7 L383.7,233.0 L384.3,233.3 L384.9,233.5 L385.5,233.6 L386.1,233.7 L386.7,233.1 L387.3,233.4 L387.9,233.2 L388.5,233.1 L389.1,233.1 L389.7,232.9 L390.0,233.2 L390.3,233.3 L390.9,232.9 L391.5,233.3 L392.1,233.0 L392.7,232.9 L393.3,232.6 L393.9,233.2 L394.5,233.1 L395.1,232.9 L395.7,232.8 L396.0,232.6 L396.3,232.9 L396.9,232.8 L397.5,232.8 L398.1,232.7 L398.7,232.4 L399.3,232.3 L399.5,232.5 L399.9,232.2 L400.5,232.1 L401.1,231.7 L401.7,231.1 L402.3,231.0 L402.5,230.9 L402.9,230.9 L403.5,230.6 L404.1,230.5 L404.7,230.5 L405.3,230.7 L405.8,230.5 L405.9,230.5 L406.5,230.2 L407.1,230.6 L407.7,230.6 L408.3,230.9 L408.9,231.2 L409.5,231.5 L409.5,231.5 L410.1,231.8 L410.7,232.3 L411.3,233.0 L411.9,233.7 L412.5,234.5 L413.0,235.2 L413.1,235.2 L413.7,236.3 L414.3,237.4 L414.9,238.1 L415.0,237.9 L415.5,215.6 L415.5,215.6 L415.9,198.3 L416.1,199.4 L416.7,207.6 L416.7,207.6 L417.3,213.0 L417.5,213.4 L417.9,211.5 L418.3,207.6 L418.5,205.1 L418.9,201.1 L419.1,203.9 L419.6,220.6 L419.7,223.3 L420.3,239.1 L420.5,240.8 L420.9,240.9 L421.5,241.0 L422.1,241.5 L422.7,241.1 L423.0,240.9 L423.3,241.1 L423.9,241.1 L424.5,241.1 L425.1,241.1 L425.7,240.9 L426.3,241.1 L426.9,241.2 L427.5,240.9 L428.1,241.5 L428.7,241.5 L429.3,240.8 L429.9,241.1 L430.5,241.3 L431.1,241.4 L431.7,241.5 L432.3,240.7 L432.9,240.9 L433.5,241.0 L434.1,241.2 L434.7,240.9 L435.3,241.2 L435.9,241.2 L436.5,241.2 L437.1,240.8 L437.7,241.1 L438.3,241.1 L438.9,241.0 L439.5,241.3 L440.0,241.0 L440.1,241.4 L440.7,240.9 L441.3,241.4 L441.9,241.4 L442.5,240.9 L443.1,241.1 L443.7,241.1 L444.3,240.9 L444.9,241.2 L445.5,241.2 L446.1,240.9 L446.7,241.1 L447.3,241.2 L447.9,241.0 L448.5,240.9 L449.1,241.4 L449.7,240.9 L450.3,241.1 L450.9,241.3 L451.5,241.2 L452.1,240.7 L452.7,241.0 L453.3,241.0 L453.9,241.0 L454.5,241.2 L455.1,241.2 L455.7,241.1 L456.3,241.1 L456.9,241.2 L457.5,241.3 L458.1,240.7 L458.7,241.5 L459.3,240.9 L459.9,241.2 L460.5,240.7 L461.1,240.9 L461.7,240.8 L462.3,241.2 L462.9,241.2 L463.5,241.0 L464.1,241.0 L464.5,241.1 L464.7,240.8 L465.3,240.5 L465.9,239.8 L466.5,239.4 L466.9,239.2 L467.1,239.1 L467.7,239.8 L468.3,240.6 L468.9,241.2 L469.0,240.9 L469.5,241.1 L470.1,241.4 L470.7,241.0 L471.3,241.0 L471.9,241.1 L472.5,241.0 L473.1,241.1 L473.7,241.0 L474.3,240.9 L474.9,241.3 L475.5,241.0 L476.1,240.9 L476.7,241.0 L477.3,241.1 L477.9,241.2 L478.5,241.3 L479.1,241.5 L479.7,240.9 L480.3,241.1 L480.9,240.8 L481.5,241.2 L482.1,241.3 L482.7,241.0 L483.3,241.0 L483.9,241.0 L484.5,240.9 L485.1,241.3 L485.7,241.5 L486.3,240.9 L486.9,241.5 L487.5,241.1 L488.1,240.9 L488.7,241.3 L489.3,241.3 L489.9,241.3 L490.5,241.1 L491.1,241.5 L491.7,241.1 L492.3,241.3 L492.9,241.3 L493.5,241.0 L494.1,240.8 L494.7,240.8 L495.3,241.1 L495.9,241.3 L496.5,240.8 L497.1,241.0 L497.7,241.5 L498.3,240.8 L498.9,241.3 L499.5,241.3 L500.0,241.3 L500.1,240.9 L500.7,241.3 L501.3,240.9 L501.9,241.5 L502.5,241.0 L503.1,241.3 L503.7,241.0 L504.3,241.2 L504.9,240.9 L505.5,241.2 L506.1,241.3 L506.7,241.2 L507.3,241.5 L507.9,241.3 L508.5,241.3 L509.1,241.3 L509.7,241.6 L510.3,241.0 L510.9,241.1 L511.5,241.1 L512.1,241.3 L512.7,241.2 L513.3,241.4 L513.9,241.2 L514.5,241.1 L515.1,241.2 L515.7,241.3 L516.3,240.7 L516.9,241.5 L517.5,241.1 L518.1,241.1 L518.7,241.2 L519.0,241.1 L519.3,241.0 L519.9,240.5 L520.5,239.6 L521.0,238.6 L521.1,238.4 L521.7,236.5 L522.3,234.5 L522.8,234.0 L522.9,234.0 L523.5,235.5 L524.1,237.9 L524.3,238.5 L524.7,239.8 L525.3,241.3 L525.8,242.1 L525.9,242.2 L526.5,242.6 L527.1,242.0 L527.7,241.9 L528.3,241.9 L528.9,241.9 L529.0,242.0 L529.5,241.7 L530.1,241.3 L530.7,240.8 L531.3,240.7 L531.8,240.5 L531.9,240.8 L532.5,240.7 L533.1,241.3 L533.7,241.8 L534.0,242.0 L534.3,242.5 L534.9,242.9 L535.5,243.4 L536.1,244.0 L536.7,244.5 L536.7,244.6" stroke="#0000FF" stroke-width="2.15"/>
</g>
<g font-family="'Liberation Serif', 'Times New Roman', serif" font-weight="bold" fill="#000">
<text x="537.1" y="420.3" font-size="14.5" text-anchor="middle">0</text>
<text x="454.1" y="420.3" font-size="14.5" text-anchor="middle">200</text>
<text x="371.1" y="420.3" font-size="14.5" text-anchor="middle">400</text>
<text x="288.1" y="420.3" font-size="14.5" text-anchor="middle">600</text>
<text x="205.1" y="420.3" font-size="14.5" text-anchor="middle">800</text>
<text x="122.1" y="420.3" font-size="14.5" text-anchor="middle">1000</text>
<text x="39.1" y="420.3" font-size="14.5" text-anchor="middle">1200</text>
<text x="288.5" y="449" font-size="17.8" text-anchor="middle">Binding Energy (eV)</text>
<text transform="translate(25.4,229.5) rotate(-90)" font-size="18.6" text-anchor="middle">Intensity (a.u.)</text>
<text x="129.3" y="22.5" font-size="16.8" text-anchor="middle">O KLL</text>
<text x="186.2" y="22.5" font-size="16.8" text-anchor="middle">F KLL</text>
<text x="251.2" y="22.5" font-size="16.8" text-anchor="middle">F 1s</text>
<text x="323.1" y="22.5" font-size="16.8" text-anchor="middle">O 1s</text>
<text x="424.1" y="22.5" font-size="16.8" text-anchor="middle">C 1s</text>
</g>
<g font-family="'Liberation Sans', Arial, sans-serif" font-size="16.2" letter-spacing="1.4" stroke-width="0.15">
<text x="508.2" y="225.4" text-anchor="middle" fill="#0000FF" stroke="#0000FF">(c)</text>
<text x="510.3" y="305.5" text-anchor="middle" fill="#FF0F92" stroke="#FF0F92">(b)</text>
<text x="508.9" y="371.4" text-anchor="middle" fill="#009018" stroke="#009018">(a)</text>
</g>
</svg>
</body></html>
